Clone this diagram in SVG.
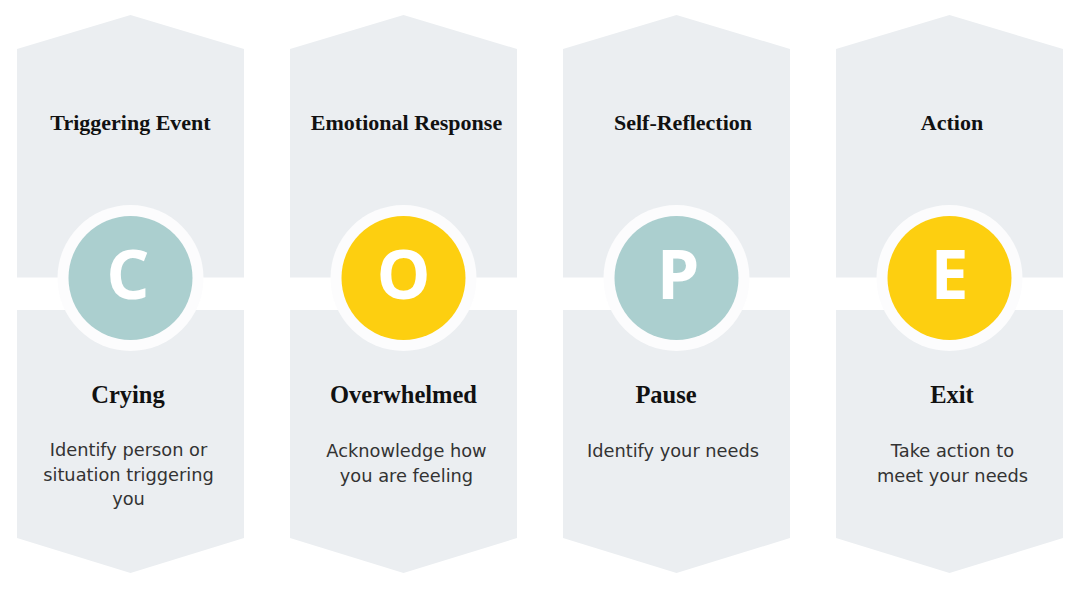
<svg xmlns="http://www.w3.org/2000/svg" width="1080" height="591" viewBox="0 0 1080 591">
<style>
.panel{fill:#ebeef1}
.ring{fill:#fcfcfd}
.teal{fill:#abcfcf}
.yellow{fill:#fdcf10}
.letter{font-family:"Open Sans","DejaVu Sans",sans-serif;font-weight:700;font-size:68px;fill:#ffffff;text-anchor:middle}
.head{font-family:"Liberation Serif","DejaVu Serif",serif;font-weight:700;font-size:22px;fill:#111111;text-anchor:middle}
.sub{font-family:"Liberation Serif","DejaVu Serif",serif;font-weight:700;font-size:24.5px;fill:#111111;text-anchor:middle}
.body{font-family:"DejaVu Sans","Noto Sans",sans-serif;font-size:17.8px;fill:#333333;text-anchor:middle}
</style>
<rect width="1080" height="591" fill="#ffffff"/>
<g id="node-c">
<polygon class="panel" points="17,49 130.5,15 244,49 244,277.5 17,277.5"/>
<polygon class="panel" points="17,310 244,310 244,538 130.5,573 17,538"/>
<circle class="ring" cx="130.5" cy="278" r="73"/>
<circle class="teal" cx="130.5" cy="278" r="62"/>
<text class="letter" x="128" y="299">C</text>
<text class="head" x="130.5" y="130">Triggering Event</text>
<text class="sub" x="128" y="403">Crying</text>
<text class="body" x="128.5" y="455.5">Identify person or</text>
<text class="body" x="128.5" y="480.5">situation triggering</text>
<text class="body" x="128.5" y="505">you</text>
</g>
<g id="node-o">
<polygon class="panel" points="290,49 403.5,15 517,49 517,277.5 290,277.5"/>
<polygon class="panel" points="290,310 517,310 517,538 403.5,573 290,538"/>
<circle class="ring" cx="403.5" cy="278" r="73"/>
<circle class="yellow" cx="403.5" cy="278" r="62"/>
<text class="letter" x="403.5" y="299">O</text>
<text class="head" x="406.5" y="130">Emotional Response</text>
<text class="sub" x="403.5" y="403">Overwhelmed</text>
<text class="body" x="406.5" y="457">Acknowledge how</text>
<text class="body" x="406.5" y="481.5">you are feeling</text>
</g>
<g id="node-p">
<polygon class="panel" points="563,49 676.5,15 790,49 790,277.5 563,277.5"/>
<polygon class="panel" points="563,310 790,310 790,538 676.5,573 563,538"/>
<circle class="ring" cx="676.5" cy="278" r="73"/>
<circle class="teal" cx="676.5" cy="278" r="62"/>
<text class="letter" x="678" y="299">P</text>
<text class="head" x="683" y="130">Self-Reflection</text>
<text class="sub" x="666" y="403">Pause</text>
<text class="body" x="673" y="457">Identify your needs</text>
</g>
<g id="node-e">
<polygon class="panel" points="836,49 949.5,15 1063,49 1063,277.5 836,277.5"/>
<polygon class="panel" points="836,310 1063,310 1063,538 949.5,573 836,538"/>
<circle class="ring" cx="949.5" cy="278" r="73"/>
<circle class="yellow" cx="949.5" cy="278" r="62"/>
<text class="letter" x="949.5" y="299">E</text>
<text class="head" x="952" y="130">Action</text>
<text class="sub" x="952" y="403">Exit</text>
<text class="body" x="952.5" y="456.5">Take action to</text>
<text class="body" x="952.5" y="482">meet your needs</text>
</g>
</svg>
